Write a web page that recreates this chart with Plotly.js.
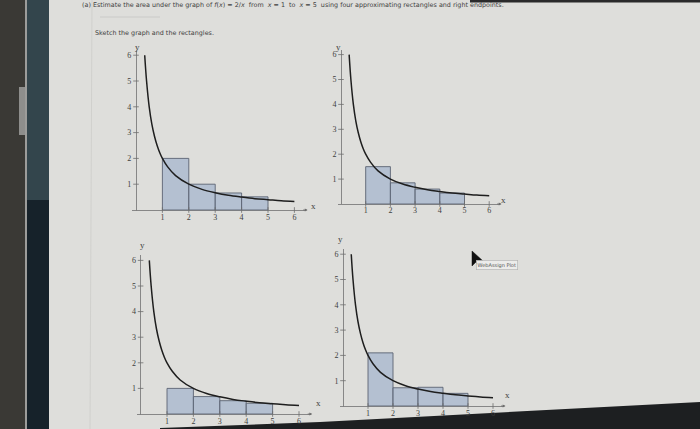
<!DOCTYPE html>
<html><head><meta charset="utf-8">
<script src="https://cdn.plot.ly/plotly-3.0.1.min.js"></script>
<style>html,body{margin:0;padding:0;background:#dededb;}#g{width:700px;height:429px;}</style>
</head><body><div id="g"></div>
<script>
// ---- data ----
var curveX = [0.33, 0.4, 0.5, 0.6, 0.7, 0.8, 0.9, 1, 1.2, 1.5, 2, 2.5, 3, 3.5, 4, 4.5, 5, 5.5, 6];
var curveY = [6.0, 5.0, 4.0, 3.33, 2.86, 2.5, 2.22, 2.0, 1.67, 1.33, 1.0, 0.8, 0.67, 0.57, 0.5, 0.44, 0.4, 0.36, 0.33];
var rectX = [1.5, 2.5, 3.5, 4.5];          // rectangle centres, width 1
var rectsTL = [2.0, 1.0, 0.66, 0.51];
var rectsTR = [1.5, 0.85, 0.6, 0.44];
var rectsBL = [1.0, 0.68, 0.52, 0.42];
var rectsBR = [2.1, 0.72, 0.74, 0.5];
var tickVals = [1, 2, 3, 4, 5, 6];
var tickZeros = [0, 0, 0, 0, 0, 0];
var titleText = "(a) Estimate the area under the graph of <i>f</i>(<i>x</i>) = 2/<i>x</i>  from  <i>x</i> = 1  to  <i>x</i> = 5  using four approximating rectangles and right endpoints.";
var subText = "Sketch the graph and the rectangles.";

// ---- layout geometry (pixels) ----
var W = 700, H = 429;
var panels = [
  {ox: 136, oy: 210, ux: 26.4, uy: 25.8, rects: rectsTL},
  {ox: 341, oy: 204, ux: 24.7, uy: 24.9, rects: rectsTR},
  {ox: 140.6, oy: 414, ux: 26.4, uy: 25.6, rects: rectsBL},
  {ox: 343, oy: 406, ux: 25, uy: 25.3, rects: rectsBR}
];
var xr = [-0.14, 6.45], yr = [-0.02, 6.2];
function px(x){ return x / W; }
function py(y){ return 1 - y / H; }

var data = [], layout = {
  width: W, height: H, margin: {l:0, r:0, t:0, b:0},
  paper_bgcolor: '#dededb', plot_bgcolor: 'rgba(0,0,0,0)',
  showlegend: false, shapes: [], annotations: [], bargap: 0
};

// background decorations (photo of a screen)
layout.shapes.push(
  {type:'rect', xref:'paper', yref:'paper', x0:0, x1:px(49), y0:0, y1:1, fillcolor:'#16222a', line:{width:0}, layer:'below'},
  {type:'rect', xref:'paper', yref:'paper', x0:px(27), x1:px(49), y0:py(200), y1:1, fillcolor:'#33454c', line:{width:0}, layer:'below'},
  {type:'rect', xref:'paper', yref:'paper', x0:0, x1:px(25), y0:0, y1:1, fillcolor:'#3a3935', line:{width:0}, layer:'below'},
  {type:'rect', xref:'paper', yref:'paper', x0:px(25), x1:px(27), y0:0, y1:1, fillcolor:'#9c9c9a', line:{width:0}, layer:'below'},
  {type:'rect', xref:'paper', yref:'paper', x0:px(19), x1:px(25), y0:py(135), y1:py(87), fillcolor:'#8e8e8c', line:{width:0}, layer:'below'},
  {type:'line', xref:'paper', yref:'paper', x0:px(90), x1:px(92), y0:0, y1:1, line:{color:'#d0d0cd', width:1}, layer:'below'},
  {type:'path', xref:'paper', yref:'paper',
   path:'M '+px(160)+',0 L '+px(160)+','+py(428)+' L '+px(320)+','+py(422)+' L 1,'+py(402)+' L 1,0 Z',
   fillcolor:'#1d1f21', line:{width:0}, layer:'below'},
  {type:'rect', xref:'paper', yref:'paper', x0:px(470), x1:1, y0:py(2.5), y1:1, fillcolor:'#2a2a2b', line:{width:0}, layer:'below'},
  {type:'line', xref:'paper', yref:'paper', x0:px(100), x1:px(160), y0:py(17), y1:py(17), line:{color:'#cacac8', width:1}},
  {type:'path', xref:'paper', yref:'paper',
   path:'M '+px(472)+','+py(251)+' L '+px(472)+','+py(266)+' L '+px(476)+','+py(262)+' L '+px(479)+','+py(268)+' L '+px(481)+','+py(267)+' L '+px(478)+','+py(261)+' L '+px(483)+','+py(261)+' Z',
   fillcolor:'#111', line:{color:'#111', width:0.5}}
);

layout.annotations.push(
  {xref:'paper', yref:'paper', x:px(80), y:py(5), xanchor:'left', yanchor:'middle', showarrow:false,
   text:titleText, font:{family:'DejaVu Sans', size:6.4, color:'#404040'}},
  {xref:'paper', yref:'paper', x:px(93), y:py(33), xanchor:'left', yanchor:'middle', showarrow:false,
   text:subText, font:{family:'DejaVu Sans', size:6.4, color:'#404040'}},
  {xref:'paper', yref:'paper', x:px(476), y:py(265), xanchor:'left', yanchor:'middle', showarrow:false,
   text:'WebAssign Plot', bgcolor:'#ececea', bordercolor:'#b0b0ae', borderwidth:0.6, borderpad:1,
   font:{family:'DejaVu Sans', size:5, color:'#555'}}
);

panels.forEach(function(p, i){
  var n = i + 1, xa = 'x' + (n === 1 ? '' : n), ya = 'y' + (n === 1 ? '' : n);
  var xk = 'xaxis' + (n === 1 ? '' : n), yk = 'yaxis' + (n === 1 ? '' : n);
  var x0 = px(p.ox + xr[0]*p.ux), x1 = px(p.ox + xr[1]*p.ux);
  var y0 = py(p.oy - yr[0]*p.uy), y1 = py(p.oy - yr[1]*p.uy);
  var axCommon = {showgrid:false, zeroline:true, zerolinecolor:'#7d7d7d', zerolinewidth:0.9, showline:false,
    ticks:'', tickvals:tickVals, ticklabelstandoff:0,
    tickfont:{family:'Liberation Serif', size:8, color:'#3e3e3e'}, fixedrange:true};
  layout[xk] = Object.assign({}, axCommon, {domain:[x0, x1], range:xr, anchor:ya});
  layout[yk] = Object.assign({}, axCommon, {domain:[y0, y1], range:yr, anchor:xa});
  data.push({type:'bar', x:rectX, y:p.rects, width:1, xaxis:xa, yaxis:ya,
    marker:{color:'rgba(165,182,205,0.75)', line:{color:'#5b6373', width:0.9}}, hoverinfo:'skip'});
  data.push({type:'scatter', mode:'lines', x:curveX, y:curveY, xaxis:xa, yaxis:ya,
    line:{color:'#1e1e1e', width:1.5, shape:'spline'}, hoverinfo:'skip', cliponaxis:false});
  // small tick marks on the axes
  data.push({type:'scatter', mode:'markers', x:tickVals, y:tickZeros, xaxis:xa, yaxis:ya,
    marker:{symbol:'line-ns-open', size:4, color:'#6d6d6d', line:{color:'#6d6d6d', width:0.8}}, hoverinfo:'skip', cliponaxis:false});
  data.push({type:'scatter', mode:'markers', x:tickZeros, y:tickVals, xaxis:xa, yaxis:ya,
    marker:{symbol:'line-ew-open', size:4, color:'#6d6d6d', line:{color:'#6d6d6d', width:0.8}}, hoverinfo:'skip', cliponaxis:false});
  // axis arrow and axis letters
  layout.annotations.push(
    {xref:'paper', yref:'paper', x:px(p.ox + 6.5*p.ux), y:py(p.oy), ax:-6, ay:0, axref:'pixel', ayref:'pixel',
     showarrow:true, arrowhead:2, arrowsize:0.7, arrowwidth:0.8, arrowcolor:'#6d6d6d', text:''},
    {xref:'paper', yref:'paper', x:px(p.ox + 6.5*p.ux + 6), y:py(p.oy - 4), showarrow:false, text:'x',
     font:{family:'Liberation Serif', size:9, color:'#3e3e3e'}},
    {xref:'paper', yref:'paper', x:px(p.ox - 3), y:py(p.oy - 6.2*p.uy - 10), showarrow:false, text:'y',
     font:{family:'Liberation Serif', size:9, color:'#3e3e3e'}}
  );
});
Plotly.newPlot('g', data, layout, {displayModeBar:false, staticPlot:true});
</script>
</body></html>
